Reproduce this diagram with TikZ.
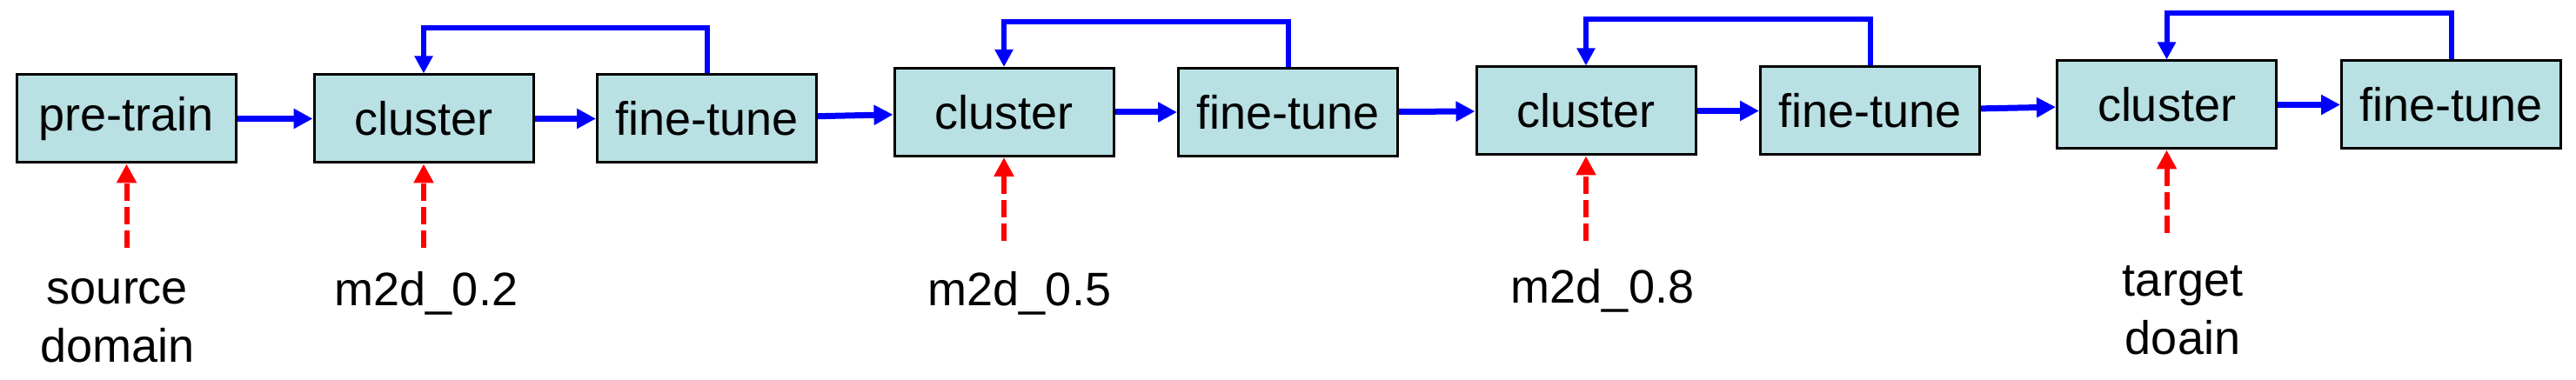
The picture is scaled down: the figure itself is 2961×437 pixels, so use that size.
\documentclass[tikz,border=0pt]{standalone}
\usepackage{fontspec}
\setmainfont{Liberation Sans}
\usetikzlibrary{arrows.meta}
\definecolor{boxfill}{HTML}{B9E0E3}
\definecolor{fb}{HTML}{0000FF}
\begin{document}
\begin{tikzpicture}[x=0.5pt,y=-0.5pt,
  box/.style={draw=black,line width=1.5pt,fill=boxfill,inner sep=0pt,minimum width=126pt,minimum height=50.5pt,font=\fontsize{27}{33.5}\selectfont},
  flow/.style={draw=fb,line width=3.5pt,-{Triangle[length=11pt,width=11pt]}},
  back/.style={draw=fb,line width=3pt,-{Triangle[length=10pt,width=10pt]}},
  inp/.style={draw=red,line width=3pt,dash pattern=on 10pt off 3.5pt,-{Triangle[length=11pt,width=11pt]}},
  lbl/.style={align=center,anchor=base,font=\fontsize{27}{33.5}\selectfont,inner sep=0pt}]
\useasboundingbox (0,0) rectangle (2961,437);
\node[box] (pt) at (145.5,136.5) {pre-train};
\node[box] (c1) at (487,136.5) {cluster};
\node[box] (f1) at (812.5,136.5) {fine-tune};
\node[box] (c2) at (1154,129) {cluster};
\node[box] (f2) at (1480.5,129) {fine-tune};
\node[box] (c3) at (1823,127.5) {cluster};
\node[box] (f3) at (2149.5,127.5) {fine-tune};
\node[box] (c4) at (2490.5,120.5) {cluster};
\node[box] (f4) at (2817.5,120.5) {fine-tune};
\draw[flow] (pt) -- (c1);
\draw[flow] (c1) -- (f1);
\draw[flow] (f1) -- (c2);
\draw[flow] (c2) -- (f2);
\draw[flow] (f2) -- (c3);
\draw[flow] (c3) -- (f3);
\draw[flow] (f3) -- (c4);
\draw[flow] (c4) -- (f4);
\draw[back] (f1.north) |- (487,32) -- (c1.north);
\draw[back] (f2.north) |- (1154,25) -- (c2.north);
\draw[back] (f3.north) |- (1823,22) -- (c3.north);
\draw[back] (f4.north) |- (2490.5,15) -- (c4.north);
\coordinate (s0) at (145.5,285);
\coordinate (s1) at (487,285);
\coordinate (s2) at (1154,277);
\coordinate (s3) at (1823,277);
\coordinate (s4) at (2490.5,268);
\draw[inp] (s0) -- (pt.south);
\draw[inp] (s1) -- (c1.south);
\draw[inp] (s2) -- (c2.south);
\draw[inp] (s3) -- (c3.south);
\draw[inp] (s4) -- (c4.south);
\node[lbl] (l0) at (135,417) {source\\domain};
\node[lbl] (l1) at (490,352) {m2d\_0.2};
\node[lbl] (l2) at (1172,352) {m2d\_0.5};
\node[lbl] (l3) at (1842,349) {m2d\_0.8};
\node[lbl] (l4) at (2509,408) {target\\doain};
\end{tikzpicture}
\end{document}
